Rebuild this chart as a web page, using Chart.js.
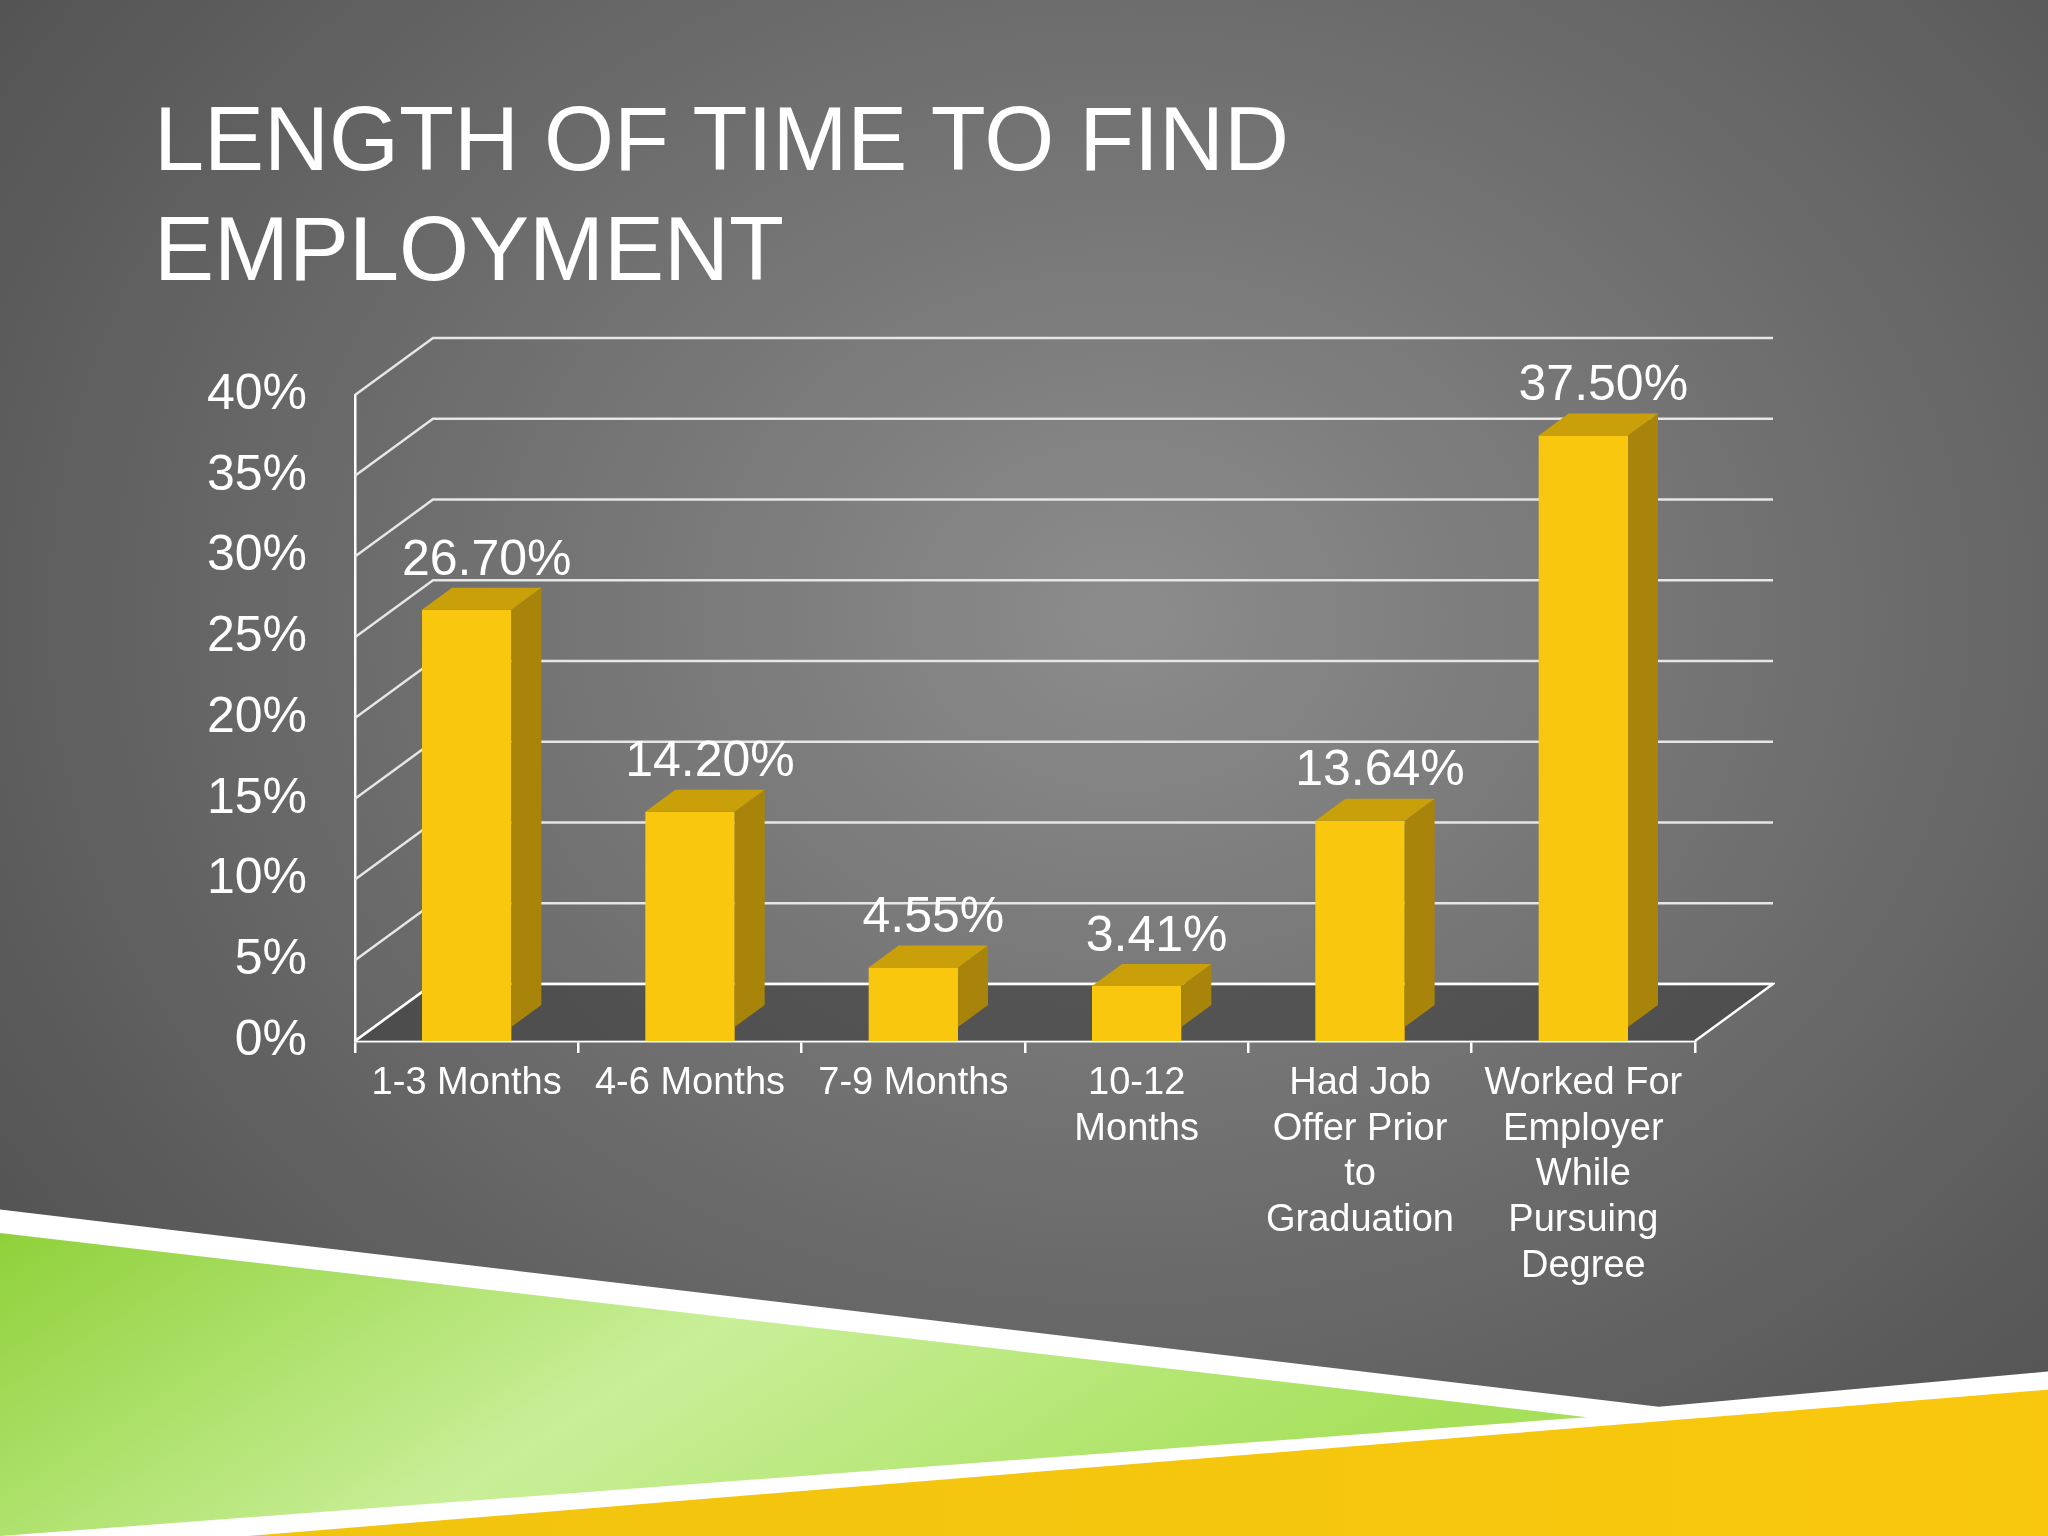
<!DOCTYPE html>
<html><head><meta charset="utf-8">
<script src="https://cdn.jsdelivr.net/npm/chart.js@4"></script>
<style>
html,body{margin:0;width:2048px;height:1536px;overflow:hidden;font-family:"Liberation Sans",Arial,sans-serif}
#bg{position:absolute;left:0;top:0;width:2048px;height:1536px;background:radial-gradient(ellipse at 55% 40%,#8c8c8c 0%,#6e6e6e 45%,#4a4a4a 100%)}
#title{position:absolute;left:154px;top:84px;color:#fff;font-size:90px;line-height:110px;letter-spacing:0px}
#wrap{position:absolute;left:180px;top:325px;width:1595px;height:972px}
svg{position:absolute;left:0;top:0}
</style></head><body>
<div id="bg"></div>
<svg width="2048" height="1536" viewBox="0 0 1568 1176" preserveAspectRatio="none">
<defs>
<linearGradient id="g" x1="0" y1="0" x2="1" y2="0.3"><stop offset="0" stop-color="#8fd13a"/><stop offset="0.5" stop-color="#c9ef98"/><stop offset="1" stop-color="#a6e05a"/></linearGradient>
<linearGradient id="y" x1="0" y1="0" x2="1" y2="0"><stop offset="0" stop-color="#f1c40f"/><stop offset="1" stop-color="#f9c80e"/></linearGradient>
</defs>
<polygon points="0,926 1270,1077 1568,1050 1568,1176 0,1176" fill="#fff"/>
<polygon points="0,944 1215,1085 0,1176" fill="url(#g)"/>
<polygon points="1568,1064 1568,1176 190,1176" fill="url(#y)"/>
</svg>
<div id="title">LENGTH OF TIME TO FIND<br>EMPLOYMENT</div>
<div id="wrap"><canvas id="c"></canvas></div>
<script>
const categories=[["1-3 Months"],["4-6 Months"],["7-9 Months"],["10-12","Months"],["Had Job","Offer Prior","to","Graduation"],["Worked For","Employer","While","Pursuing","Degree"]];
const values=[26.70,14.20,4.55,3.41,13.64,37.50];
const valueLabels=["26.70%","14.20%","4.55%","3.41%","13.64%","37.50%"];
const DX=78,DY=57,BD=30,BDY=22;
const threeD={id:'threeD',
beforeDatasetsDraw(ch){const c=ch.ctx,a=ch.chartArea,y=ch.scales.y;c.save();c.strokeStyle='#e6e6e6';c.lineWidth=2.5;
 y.ticks.forEach(t=>{const py=y.getPixelForValue(t.value);c.beginPath();c.moveTo(a.left,py);c.lineTo(a.left+DX,py-DY);c.lineTo(a.right+DX,py-DY);c.stroke();});
 const b=y.getPixelForValue(0);c.fillStyle='rgba(60,60,60,0.6)';c.beginPath();c.moveTo(a.left,b);c.lineTo(a.left+DX,b-DY);c.lineTo(a.right+DX,b-DY);c.lineTo(a.right,b);c.closePath();c.fill();
 c.strokeStyle='#fff';c.beginPath();c.moveTo(a.left,b);c.lineTo(a.left+DX,b-DY);c.lineTo(a.right+DX,b-DY);c.lineTo(a.right,b);c.stroke();
 c.restore();},
afterDatasetsDraw(ch){const c=ch.ctx,m=ch.getDatasetMeta(0);c.save();
 m.data.forEach((e,i)=>{const l=e.x-e.width/2,r=e.x+e.width/2,t=e.y,b=e.base-14;
  c.fillStyle='#a8850a';c.beginPath();c.moveTo(r,t);c.lineTo(r+BD,t-BDY);c.lineTo(r+BD,b-BDY);c.lineTo(r,b);c.closePath();c.fill();
  c.fillStyle='#c9a00a';c.beginPath();c.moveTo(l,t);c.lineTo(l+BD,t-BDY);c.lineTo(r+BD,t-BDY);c.lineTo(r,t);c.closePath();c.fill();
  c.fillStyle='#fff';c.font='50px "Liberation Sans",Arial';c.textAlign='center';c.textBaseline='bottom';
  c.fillText(valueLabels[i],e.x+20,t-BDY-2);});
 c.restore();}};
new Chart(document.getElementById('c'),{type:'bar',
data:{labels:categories,datasets:[{data:values,backgroundColor:'#f9c80e',barPercentage:0.4,categoryPercentage:1,base:0}]},
options:{responsive:true,maintainAspectRatio:false,animation:false,
 layout:{padding:{right:80,top:60}},
 plugins:{legend:{display:false},tooltip:{enabled:false}},
 scales:{y:{min:0,max:40,ticks:{stepSize:5,color:'#fff',font:{size:50,family:'"Liberation Sans",Arial'},callback:v=>v+'%',padding:40},
   grid:{display:false},border:{color:'#fff',width:2.5},afterFit(s){s.width=175;}},
  x:{ticks:{color:'#fff',font:{size:38,family:'"Liberation Sans",Arial'},maxRotation:0,autoSkip:false,padding:8},
   grid:{display:true,drawOnChartArea:false,drawTicks:true,tickLength:12,color:'#fff',offset:true,lineWidth:2.5},border:{color:'#fff',width:2.5}}}},
plugins:[threeD]});
</script></body></html>
